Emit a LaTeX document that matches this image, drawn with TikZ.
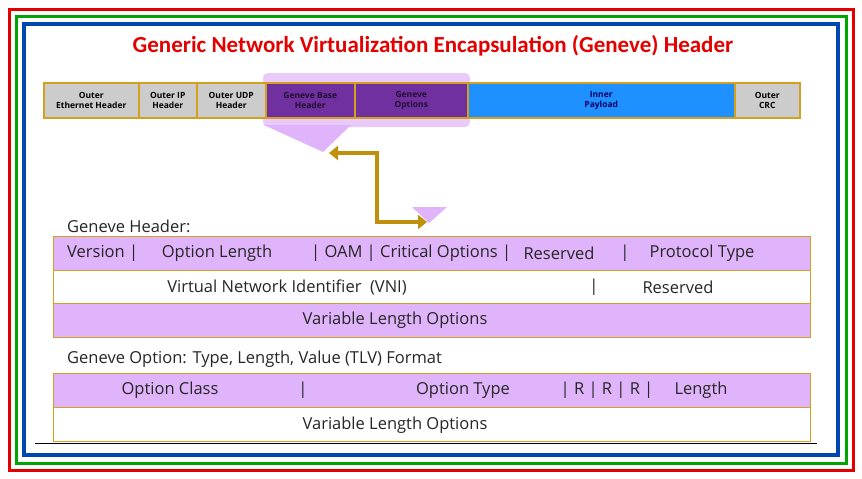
\documentclass[tikz,border=0pt]{standalone}
\usetikzlibrary{arrows.meta}
\usepackage{fontspec}
\setmainfont{Open Sans}
\newfontfamily\titlefont{Carlito}
\begin{document}
\begin{tikzpicture}[x=1pt,y=-1pt,
 cell/.style={draw=gold,line width=1.5pt,minimum height=35pt,inner sep=0pt,font=\fontsize{8.5}{10}\bfseries\selectfont,align=center,anchor=north west},
 row/.style={draw=gold,line width=1.2pt,minimum width=757pt,anchor=north west,inner sep=0pt},
 t/.style={font=\fontsize{16.5}{18}\selectfont,text=black!85,inner sep=0pt}]
\definecolor{gold}{HTML}{D4A020}
\definecolor{arr}{HTML}{C0900C}
\definecolor{lil}{HTML}{E0B4FA}
\definecolor{pur}{HTML}{7030A0}
\definecolor{blu}{HTML}{1E90FF}
\useasboundingbox (0,0) rectangle (862,479);
\fill[white] (0,0) rectangle (862,479);
\draw[red!90!black,line width=3pt] (9,9) rectangle (853,470);
\draw[green!65!black,line width=3pt] (16,16) rectangle (846,463);
\draw[blue!60!cyan!70!black,line width=4pt] (24,24) rectangle (838,455);
\node[font=\titlefont\bfseries\fontsize{23}{26}\selectfont,text=red!90!black] (title) at (433,46) {Generic Network Virtualization Encapsulation (Geneve) Header};
% highlight
\fill[lil!70,rounded corners=5pt] (263,73) rectangle (470,127);
\fill[lil] (264,125) -- (351,125) -- (323,152) -- cycle;
\node[cell,fill=gray!40,minimum width=95pt] (c1) at (43,82) {Outer\\Ethernet Header};
\node[cell,fill=gray!40,minimum width=58pt] (c2) at (138,82) {Outer IP\\Header};
\node[cell,fill=gray!40,minimum width=69pt] (c3) at (196,82) {Outer UDP\\Header};
\node[cell,fill=pur,text=black!70!pur,minimum width=89pt] (c4) at (265,82) {Geneve Base\\Header};
\node[cell,fill=pur,text=black!70!pur,minimum width=113pt] (c5) at (354,82) {Geneve\\Options};
\node[cell,fill=blu,text=blue!40!black,minimum width=267pt] (c6) at (467,82) {Inner\\Payload};
\node[cell,fill=gray!40,minimum width=65pt] (c7) at (734,82) {Outer\\CRC};
\fill[lil] (412,207) -- (447,207) -- (429,223) -- cycle;
\coordinate (a1) at (329,153);
\coordinate (a2) at (427,222);
\draw[arr,line width=4pt,{Triangle[length=9pt,width=14pt]}-{Triangle[length=9pt,width=14pt]}] (a1) -- (377,153) |- (a2);
\node[t,anchor=west] (gh) at (67,226) {Geneve Header:};
\node[row,fill=lil,minimum height=34pt] (r1) at (53,236) {};
\node[row,fill=white,minimum height=33pt] (r2) at (53,270) {};
\node[row,fill=lil,minimum height=34pt] (r3) at (53,303) {};
\node[t,anchor=west] at (67,253) {Version |};
\node[t] at (217,253) {Option Length};
\node[t,anchor=west] at (311,253) {| OAM | Critical Options |};
\node[t] at (559,253) {Reserved};
\node[t] at (625,253) {|};
\node[t] at (702,253) {Protocol Type};
\node[t] at (287,287) {Virtual Network Identifier\ \ (VNI)};
\node[t] at (594,287) {|};
\node[t] at (678,287) {Reserved};
\node[t] at (395,320) {Variable Length Options};
\node[t,anchor=west] (go) at (67,359) {Geneve Option: Type, Length, Value (TLV) Format};
\node[row,fill=lil,minimum height=34pt] (o1) at (53,373) {};
\node[row,fill=white,minimum height=34pt] (o2) at (53,407) {};
\node[t] at (170,390) {Option Class};
\node[t] at (303,390) {|};
\node[t] at (463,390) {Option Type};
\node[t] at (607,390) {| R | R | R |};
\node[t] at (701,390) {Length};
\node[t] at (395,425) {Variable Length Options};
\coordinate (l1) at (35,443);
\coordinate (l2) at (817,443);
\draw[black,line width=0.8pt] (l1) -- (l2);
\end{tikzpicture}
\end{document}
